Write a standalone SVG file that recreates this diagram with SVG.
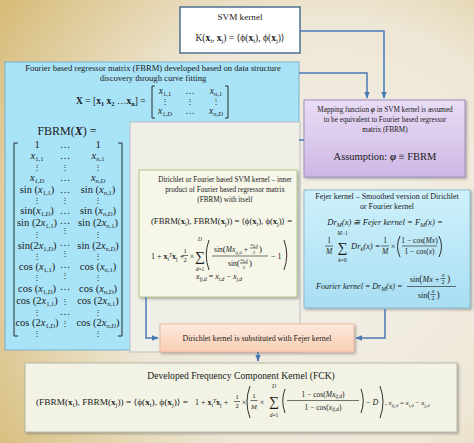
<svg xmlns="http://www.w3.org/2000/svg" width="474" height="443" viewBox="0 0 474 443">
<defs>
<radialGradient id="bg" cx="330" cy="240" r="440" gradientUnits="userSpaceOnUse">
<stop offset="0" stop-color="#f4f1ea"/>
<stop offset="0.5" stop-color="#eee7d6"/>
<stop offset="1" stop-color="#d2b366"/>
</radialGradient>
<linearGradient id="gMap" x1="0" y1="0" x2="0" y2="1"><stop offset="0" stop-color="#e9ddf5"/><stop offset="1" stop-color="#cdb7e4"/></linearGradient>
<linearGradient id="gFej" x1="0" y1="0" x2="0" y2="1"><stop offset="0" stop-color="#cff1fb"/><stop offset="1" stop-color="#a8def3"/></linearGradient>
<linearGradient id="gSub" x1="0" y1="0" x2="0" y2="1"><stop offset="0" stop-color="#fdeadf"/><stop offset="1" stop-color="#f9cdb3"/></linearGradient>
<filter id="sh" x="-5%" y="-5%" width="115%" height="125%"><feDropShadow dx="1.5" dy="1.5" stdDeviation="1" flood-color="#555" flood-opacity="0.45"/></filter>
<marker id="ar" viewBox="0 0 10 10" refX="9" refY="5" markerWidth="4.5" markerHeight="4.5" orient="auto"><path d="M0,1 L10,5 L0,9 z" fill="#4a7ab6"/></marker>
</defs>
<style>
.s{font-family:"Liberation Serif","DejaVu Serif",serif;fill:#1a1a1a}
.i{font-style:italic}
.b{font-weight:bold}
.c{text-anchor:middle}
.con{fill:none;stroke:#4a7ab6;stroke-width:1.5}
.del{fill:none;stroke:#1a1a1a;stroke-width:0.9}
.fr{stroke:#1a1a1a;stroke-width:0.6}
.mx{font-size:10.5px}
.u{font-size:6.5px}
</style>
<rect x="0" y="0" width="474" height="443" fill="url(#bg)"/>

<g id="svm">
<rect x="180" y="7" width="120" height="46" fill="#ffffff" stroke="#4f6f8f" stroke-width="1.5"/>
<text class="s c" x="240" y="20" font-size="9.2">SVM kernel</text>
<text class="s c" x="240" y="41" font-size="9.5">K(<tspan class="b">x</tspan><tspan font-size="6.5" dy="2">i</tspan><tspan dy="-2">, </tspan><tspan class="b">x</tspan><tspan font-size="6.5" dy="2">j</tspan><tspan dy="-2">) = ⟨ϕ(</tspan><tspan class="b">x</tspan><tspan font-size="6.5" dy="2">i</tspan><tspan dy="-2">), ϕ(</tspan><tspan class="b">x</tspan><tspan font-size="6.5" dy="2">j</tspan><tspan dy="-2">)⟩</tspan></text>
</g>

<g id="fbrm">
<rect x="5" y="62" width="294" height="288" fill="#a9e3f7" stroke="#7fb0c8"/>
<rect x="130" y="122" width="170" height="230" fill="#efefe8" stroke="#b9c2c4"/>
<text class="s c" x="153" y="71" font-size="8.6">Fourier based regressor matrix (FBRM) developed based on data structure</text>
<text class="s c" x="153" y="81" font-size="8.6">discovery through curve fitting</text>
<text class="s" x="76" y="104" font-size="9.5"><tspan class="b">X</tspan> = [<tspan class="b">x</tspan><tspan class="b" font-size="6.5" dy="2">1</tspan><tspan dy="-2"> </tspan><tspan class="b">x</tspan><tspan class="b" font-size="6.5" dy="2">2</tspan><tspan dy="-2"> …</tspan><tspan class="b">x</tspan><tspan class="b" font-size="6.5" dy="2">n</tspan><tspan dy="-2">] =</tspan></text>
<path class="del" d="M155,86 H152 V118 H155 M225,86 H228 V118 H225"/>
<text class="s c" x="165" y="94" font-size="9.5"><tspan class="i">x</tspan><tspan font-size="6.5" dy="2">1,1</tspan></text>
<text class="s c" x="190" y="94" font-size="9.5">…</text>
<text class="s c" x="216" y="94" font-size="9.5"><tspan class="i">x</tspan><tspan class="i" font-size="6.5" dy="2">n</tspan><tspan font-size="6.5">,1</tspan></text>
<text class="s c" x="165" y="104" font-size="8">⋮</text>
<text class="s c" x="190" y="104" font-size="8">⋮</text>
<text class="s c" x="216" y="104" font-size="8">⋮</text>
<text class="s c" x="165" y="114" font-size="9.5"><tspan class="i">x</tspan><tspan font-size="6.5" dy="2">1,</tspan><tspan class="i" font-size="6.5">D</tspan></text>
<text class="s c" x="190" y="114" font-size="9.5">…</text>
<text class="s c" x="216" y="114" font-size="9.5"><tspan class="i">x</tspan><tspan class="i" font-size="6.5" dy="2">n</tspan><tspan font-size="6.5">,</tspan><tspan class="i" font-size="6.5">D</tspan></text>

<text class="s c" x="67" y="135" font-size="12">FBRM(<tspan class="b i">X</tspan>)  =</text>
<path class="del" d="M18,143 H14 V336 H18 M118,143 H122 V336 H118" stroke-width="1.3"/>
<g class="mx">
<text class="s c mx" x="37" y="148">1</text><text class="s c mx" x="65" y="148">…</text><text class="s c mx" x="98" y="148">1</text>
<text class="s c mx" x="37" y="159"><tspan class="i">x</tspan><tspan class="u" dy="2">1,1</tspan></text><text class="s c mx" x="65" y="159">…</text><text class="s c mx" x="98" y="159"><tspan class="i">x</tspan><tspan class="i u" dy="2">n</tspan><tspan class="u">,1</tspan></text>
<text class="s c" x="37" y="170" font-size="8">⋮</text><text class="s c" x="65" y="170" font-size="8">⋮</text><text class="s c" x="98" y="170" font-size="8">⋮</text>
<text class="s c mx" x="37" y="180.5"><tspan class="i">x</tspan><tspan class="u" dy="2">1,</tspan><tspan class="i u">D</tspan></text><text class="s c mx" x="65" y="180.5">…</text><text class="s c mx" x="98" y="180.5"><tspan class="i">x</tspan><tspan class="i u" dy="2">n</tspan><tspan class="u">,</tspan><tspan class="i u">D</tspan></text>
<text class="s c mx" x="37" y="192.5">sin (<tspan class="i">x</tspan><tspan class="u" dy="2">1,1</tspan><tspan dy="-2">)</tspan></text><text class="s c mx" x="65" y="192.5">…</text><text class="s c mx" x="98" y="192.5">sin (<tspan class="i">x</tspan><tspan class="i u" dy="2">n</tspan><tspan class="u">,1</tspan><tspan dy="-2">)</tspan></text>
<text class="s c" x="37" y="203" font-size="8">⋮</text><text class="s c" x="65" y="203" font-size="8">⋮</text><text class="s c" x="98" y="203" font-size="8">⋮</text>
<text class="s c mx" x="37" y="214">sin(<tspan class="i">x</tspan><tspan class="u" dy="2">1,</tspan><tspan class="i u">D</tspan><tspan dy="-2">)</tspan></text><text class="s c mx" x="65" y="214">…</text><text class="s c mx" x="98" y="214">sin (<tspan class="i">x</tspan><tspan class="i u" dy="2">n</tspan><tspan class="u">,</tspan><tspan class="i u">D</tspan><tspan dy="-2">)</tspan></text>
<text class="s c mx" x="37" y="226">sin (2<tspan class="i">x</tspan><tspan class="u" dy="2">1,1</tspan><tspan dy="-2">)</tspan></text><text class="s c mx" x="65" y="224">…</text><text class="s c mx" x="98" y="226">sin (2<tspan class="i">x</tspan><tspan class="i u" dy="2">n</tspan><tspan class="u">,1</tspan><tspan dy="-2">)</tspan></text>
<text class="s c" x="37" y="237" font-size="8">⋮</text><text class="s c" x="65" y="233" font-size="8">⋮</text><text class="s c" x="98" y="237" font-size="8">⋮</text>
<text class="s c mx" x="37" y="249">sin(2<tspan class="i">x</tspan><tspan class="u" dy="2">1,</tspan><tspan class="i u">D</tspan><tspan dy="-2">)</tspan></text><text class="s c mx" x="65" y="246">…</text><text class="s c mx" x="98" y="249">sin (2<tspan class="i">x</tspan><tspan class="i u" dy="2">n</tspan><tspan class="u">,</tspan><tspan class="i u">D</tspan><tspan dy="-2">)</tspan></text>
<text class="s c" x="37" y="259" font-size="8">⋮</text><text class="s c" x="65" y="256" font-size="8">⋮</text><text class="s c" x="98" y="259" font-size="8">⋮</text>
<text class="s c mx" x="37" y="270">cos (<tspan class="i">x</tspan><tspan class="u" dy="2">1,1</tspan><tspan dy="-2">)</tspan></text><text class="s c mx" x="65" y="268">…</text><text class="s c mx" x="98" y="270">cos (<tspan class="i">x</tspan><tspan class="i u" dy="2">n</tspan><tspan class="u">,1</tspan><tspan dy="-2">)</tspan></text>
<text class="s c" x="37" y="280" font-size="8">⋮</text><text class="s c" x="65" y="278" font-size="8">⋮</text><text class="s c" x="98" y="280" font-size="8">⋮</text>
<text class="s c mx" x="37" y="292">cos (<tspan class="i">x</tspan><tspan class="u" dy="2">1,</tspan><tspan class="i u">D</tspan><tspan dy="-2">)</tspan></text><text class="s c mx" x="65" y="290">…</text><text class="s c mx" x="98" y="292">cos (<tspan class="i">x</tspan><tspan class="i u" dy="2">n</tspan><tspan class="u">,</tspan><tspan class="i u">D</tspan><tspan dy="-2">)</tspan></text>
<text class="s c mx" x="37" y="304">cos (2<tspan class="i">x</tspan><tspan class="u" dy="2">1,1</tspan><tspan dy="-2">)</tspan></text><text class="s c" x="65" y="304" font-size="8">⋮</text><text class="s c mx" x="98" y="304">cos (2<tspan class="i">x</tspan><tspan class="i u" dy="2">n</tspan><tspan class="u">,1</tspan><tspan dy="-2">)</tspan></text>
<text class="s c" x="37" y="315" font-size="8">⋮</text><text class="s c mx" x="65" y="315">…</text><text class="s c" x="98" y="315" font-size="8">⋮</text>
<text class="s c mx" x="37" y="326">cos (2<tspan class="i">x</tspan><tspan class="u" dy="2">1,</tspan><tspan class="i u">D</tspan><tspan dy="-2">)</tspan></text><text class="s c" x="65" y="326" font-size="8">⋮</text><text class="s c mx" x="98" y="326">cos (2<tspan class="i">x</tspan><tspan class="i u" dy="2">n</tspan><tspan class="u">,</tspan><tspan class="i u">D</tspan><tspan dy="-2">)</tspan></text>
<text class="s c" x="37" y="336" font-size="8">⋮</text><text class="s c" x="98" y="336" font-size="8">⋮</text>
</g>
</g>

<g id="mapping">
<rect x="304" y="100" width="161" height="77" fill="url(#gMap)" stroke="#a090c0" filter="url(#sh)"/>
<text class="s c" x="385" y="112" font-size="7.2">Mapping function <tspan class="b i">φ</tspan> in SVM kernel is assumed</text>
<text class="s c" x="385" y="122" font-size="7.2">to be equivalent to Fourier based regressor</text>
<text class="s c" x="385" y="132" font-size="7.2">matrix (FBRM)</text>
<text class="s c" x="385" y="160" font-size="10.5">Assumption:   <tspan class="b i">φ</tspan> ≡ FBRM</text>
</g>

<g id="dirichlet">
<rect x="139" y="170" width="158" height="127" fill="#f6f7e9" stroke="#b6c48c" filter="url(#sh)"/>
<text class="s c" x="225" y="182" font-size="7.2">Dirichlet or Fourier based SVM kernel – inner</text>
<text class="s c" x="225" y="192" font-size="7.2">product of Fourier based regressor matrix</text>
<text class="s c" x="225" y="202" font-size="7.2">(FBRM) with itself</text>
<text class="s" x="151" y="224" font-size="8" textLength="141" lengthAdjust="spacingAndGlyphs">(FBRM(<tspan class="b">x</tspan><tspan font-size="5.5" dy="1.5">i</tspan><tspan dy="-1.5">), FBRM(</tspan><tspan class="b">x</tspan><tspan font-size="5.5" dy="1.5">j</tspan><tspan dy="-1.5">)) = ⟨ϕ(</tspan><tspan class="b">x</tspan><tspan font-size="5.5" dy="1.5">i</tspan><tspan dy="-1.5">), ϕ(</tspan><tspan class="b">x</tspan><tspan font-size="5.5" dy="1.5">j</tspan><tspan dy="-1.5">)⟩ =</tspan></text>
<text class="s" x="151" y="259" font-size="8">1 + <tspan class="b">x</tspan><tspan font-size="5.5" dy="2">i</tspan><tspan class="i" font-size="5.5" dy="-4.5">T</tspan><tspan class="b" dy="2.5">x</tspan><tspan font-size="5.5" dy="2">j</tspan><tspan dy="-2"> +</tspan></text>
<text class="s c" x="185" y="253" font-size="6.5">1</text>
<line class="fr" x1="182" y1="255.5" x2="188" y2="255.5"/>
<text class="s c" x="185" y="262" font-size="6.5">2</text>
<text class="s c" x="192" y="259" font-size="8">×</text>
<text class="s c" x="200" y="261" font-size="14">∑</text>
<text class="s c i" x="200" y="241" font-size="5.5">D</text>
<text class="s c" x="200" y="271" font-size="5.5"><tspan class="i">d</tspan>=1</text>
<path class="del" d="M209,240 Q203.5,255 209,270"/>
<line class="fr" x1="212" y1="256" x2="268" y2="256"/>
<text class="s" x="214" y="252" font-size="7.5">sin<tspan font-size="9">(</tspan><tspan class="i">Mx</tspan><tspan class="i" font-size="5" dy="1.5">ij,d</tspan><tspan dy="-1.5"> +</tspan></text>
<text class="s c i" x="254" y="246" font-size="5">x<tspan font-size="3.8" dy="1">ij,d</tspan></text>
<line class="fr" x1="250" y1="248" x2="258" y2="248"/>
<text class="s c" x="254" y="253.5" font-size="5">2</text>
<text class="s" x="259" y="252" font-size="9">)</text>
<text class="s" x="228" y="266" font-size="7.5">sin<tspan font-size="9">(</tspan></text>
<text class="s c i" x="244" y="261" font-size="5">x<tspan font-size="3.8" dy="1">ij,d</tspan></text>
<line class="fr" x1="240" y1="263" x2="248" y2="263"/>
<text class="s c" x="244" y="268.5" font-size="5">2</text>
<text class="s" x="249" y="266" font-size="9">)</text>
<text class="s" x="271" y="259" font-size="8">− 1</text>
<path class="del" d="M284,240 Q289.5,255 284,270"/>
<text class="s c i" x="219" y="279" font-size="8">x<tspan font-size="5.5" dy="1.5">ij,d</tspan><tspan dy="-1.5" font-style="normal"> = </tspan>x<tspan font-size="5.5" dy="1.5">i,d</tspan><tspan dy="-1.5" font-style="normal"> − </tspan>x<tspan font-size="5.5" dy="1.5">j,d</tspan></text>
</g>

<g id="fejer">
<rect x="304" y="190" width="166" height="118" fill="url(#gFej)" stroke="#8cbcd0" filter="url(#sh)"/>
<text class="s c" x="387" y="199" font-size="8">Fejer kernel – Smoothed version of Dirichlet</text>
<text class="s c" x="387" y="209" font-size="8">or Fourier kernel</text>
<text class="s c i" x="385" y="225" font-size="8.6">Dr<tspan font-size="6" dy="1.5">M</tspan><tspan dy="-1.5">(x) ≅ Fejer kernel = F</tspan><tspan font-size="6" dy="1.5">M</tspan><tspan dy="-1.5">(x) =</tspan></text>
<text class="s c" x="329" y="243" font-size="7.5">1</text>
<line class="fr" x1="325" y1="246" x2="333" y2="246"/>
<text class="s c i" x="329" y="254" font-size="7.5">M</text>
<text class="s c" x="342.5" y="252" font-size="14">∑</text>
<text class="s c" x="342.5" y="235" font-size="5.5"><tspan class="i">M</tspan>−1</text>
<text class="s c" x="342.5" y="262" font-size="5.5"><tspan class="i">k</tspan>=0</text>
<text class="s i" x="351" y="249" font-size="8.5">Dr<tspan font-size="6" dy="2">k</tspan><tspan dy="-2">(x) =</tspan></text>
<text class="s c" x="385" y="243" font-size="7.5">1</text>
<line class="fr" x1="381" y1="246" x2="389" y2="246"/>
<text class="s c i" x="385" y="254" font-size="7.5">M</text>
<text class="s c" x="393" y="249" font-size="8">×</text>
<path class="del" d="M400,236 Q395,246.5 400,257"/>
<line class="fr" x1="402" y1="246" x2="437" y2="246"/>
<text class="s c" x="419.5" y="243" font-size="7.5">1 − cos(<tspan class="i">Mx</tspan>)</text>
<text class="s c" x="419.5" y="254" font-size="7.5">1 − cos(<tspan class="i">x</tspan>)</text>
<path class="del" d="M439,236 Q444,246.5 439,257"/>
<text class="s i" x="316" y="289" font-size="8">Fourier kernel = Dr<tspan font-size="5.8" dy="2">M</tspan><tspan dy="-2">(x) =</tspan></text>
<line class="fr" x1="407" y1="286.5" x2="456" y2="286.5"/>
<text class="s" x="410" y="282" font-size="8">sin<tspan font-size="9.5">(</tspan><tspan class="i">Mx</tspan> +</text>
<text class="s c i" x="443" y="277" font-size="6">x</text>
<line class="fr" x1="440.5" y1="278.5" x2="445.5" y2="278.5"/>
<text class="s c" x="443" y="284" font-size="6">2</text>
<text class="s" x="447" y="282" font-size="9.5">)</text>
<text class="s" x="418" y="298" font-size="8">sin<tspan font-size="9.5">(</tspan></text>
<text class="s c i" x="433" y="293" font-size="6">x</text>
<line class="fr" x1="430.5" y1="294.5" x2="435.5" y2="294.5"/>
<text class="s c" x="433" y="300" font-size="6">2</text>
<text class="s" x="436.5" y="298" font-size="9.5">)</text>
</g>

<g id="substitution">
<rect x="160" y="324" width="194" height="28" fill="url(#gSub)" stroke="#eab9a0" filter="url(#sh)"/>
<text class="s c" x="257" y="341" font-size="7.9">Dirichlet kernel is substituted with Fejer kernel</text>
</g>

<g id="fck">
<rect x="25" y="363" width="432" height="69" fill="#f2f3e5" stroke="#b8b8a8" filter="url(#sh)"/>
<text class="s c" x="241" y="379" font-size="9.6">Developed Frequency Component Kernel (FCK)</text>
<text class="s" x="36" y="405" font-size="8.6" textLength="152" lengthAdjust="spacingAndGlyphs">(FBRM(<tspan class="b">x</tspan><tspan font-size="5.8" dy="1.5">i</tspan><tspan dy="-1.5">), FBRM(</tspan><tspan class="b">x</tspan><tspan font-size="5.8" dy="1.5">j</tspan><tspan dy="-1.5">)) = ⟨ϕ(</tspan><tspan class="b">x</tspan><tspan font-size="5.8" dy="1.5">i</tspan><tspan dy="-1.5">), ϕ(</tspan><tspan class="b">x</tspan><tspan font-size="5.8" dy="1.5">j</tspan><tspan dy="-1.5">)⟩ =</tspan></text>
<text class="s" x="195" y="405" font-size="8">1 + <tspan class="b">x</tspan><tspan font-size="5.5" dy="2">i</tspan><tspan class="i" font-size="5.5" dy="-4.5">T</tspan><tspan class="b" dy="2.5">x</tspan><tspan font-size="5.5" dy="2">j</tspan><tspan dy="-2"> +</tspan></text>
<text class="s c" x="237" y="399" font-size="6.5">1</text>
<line class="fr" x1="234" y1="401.5" x2="240" y2="401.5"/>
<text class="s c" x="237" y="408" font-size="6.5">2</text>
<text class="s c" x="244" y="405" font-size="8">×</text>
<path class="del" d="M250,386 Q244,402 250,418"/>
<text class="s c" x="254" y="398" font-size="7">1</text>
<line class="fr" x1="250.5" y1="400.5" x2="257.5" y2="400.5"/>
<text class="s c i" x="254" y="409" font-size="7">M</text>
<text class="s c" x="262" y="405" font-size="8">×</text>
<text class="s c" x="274" y="406" font-size="14">∑</text>
<text class="s c i" x="274" y="388" font-size="5.5">D</text>
<text class="s c" x="274" y="417" font-size="5.5"><tspan class="i">d</tspan>=1</text>
<path class="del" d="M285,389 Q280.5,401 285,413"/>
<line class="fr" x1="287" y1="400.5" x2="359" y2="400.5"/>
<text class="s c" x="323" y="397" font-size="7.5">1 − cos(<tspan class="i">Mx</tspan><tspan class="i" font-size="5.2" dy="1.2">ij,d</tspan><tspan dy="-1.2">)</tspan></text>
<text class="s c" x="323" y="410" font-size="7.5">1 − cos(<tspan class="i">x</tspan><tspan class="i" font-size="5.2" dy="1.2">ij,d</tspan><tspan dy="-1.2">)</tspan></text>
<path class="del" d="M361,389 Q365.5,401 361,413"/>
<text class="s" x="366" y="405" font-size="8">− <tspan class="i">D</tspan></text>
<path class="del" d="M380,386 Q386,402 380,418"/>
<text class="s" x="385" y="405" font-size="7">, <tspan class="i">x</tspan><tspan class="i" font-size="5" dy="1.5">ij,d</tspan><tspan dy="-1.5"> = </tspan><tspan class="i">x</tspan><tspan class="i" font-size="5" dy="1.5">i,d</tspan><tspan dy="-1.5"> − </tspan><tspan class="i">x</tspan><tspan class="i" font-size="5" dy="1.5">j,d</tspan></text>
</g>

<g id="connectors">
<path class="con" d="M300,31 H384 V98" marker-end="url(#ar)"/>
<path class="con" d="M299,73 H367 V98" marker-end="url(#ar)"/>
<path class="con" d="M304,140 H299"/>
<path class="con" d="M146,297 V338 H158" marker-end="url(#ar)"/>
<path class="con" d="M385,309 V338 H356" marker-end="url(#ar)"/>
<path class="con" d="M258,352 V361" marker-end="url(#ar)"/>
</g>
</svg>
